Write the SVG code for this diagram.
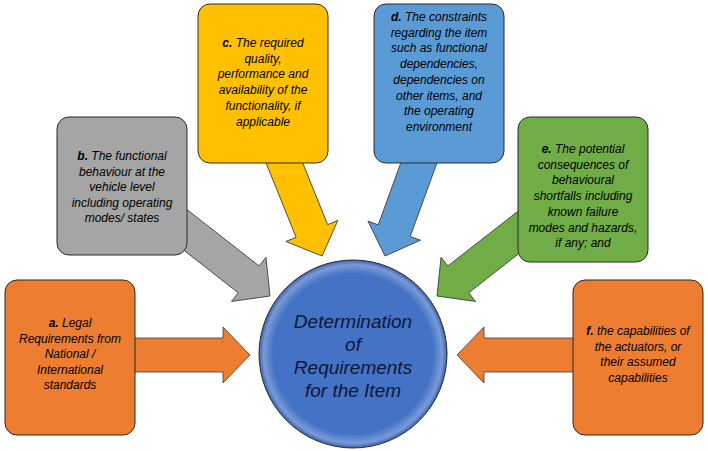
<svg xmlns="http://www.w3.org/2000/svg" width="708" height="451" viewBox="0 0 708 451">
<style>
.box{stroke:#2b2b2b;stroke-width:1}
.arr{stroke:#3a3a3a;stroke-width:0.8}
.t{font-family:"Liberation Sans",Arial,sans-serif;font-style:italic;font-size:12px;fill:#000;text-anchor:middle}
.c{font-family:"Liberation Sans",Arial,sans-serif;font-style:italic;font-size:19px;fill:#0c1838;text-anchor:middle}
b,.b{font-weight:bold}
</style>
<defs>
<polygon id="ar" points="-120,-17 -27,-17 -27,-28 0,0 -27,28 -27,17 -120,17"/>
<radialGradient id="cg" cx="0.5" cy="0.5" r="0.5">
<stop offset="0.85" stop-color="#4472C4"/><stop offset="0.95" stop-color="#7a9ad8"/><stop offset="1" stop-color="#3a62aa"/>
</radialGradient>
</defs>
<g id="connectors">
<use href="#ar" class="arr" fill="#A5A5A5" transform="translate(270,296) rotate(38)"/>
<use href="#ar" class="arr" fill="#FFC000" transform="translate(322,256) rotate(68)"/>
<use href="#ar" class="arr" fill="#5B9BD5" transform="translate(385,256) rotate(110)"/>
<use href="#ar" class="arr" fill="#70AD47" transform="translate(437,296) rotate(142)"/>
<use href="#ar" class="arr" fill="#ED7D31" transform="translate(250,355)"/>
<use href="#ar" class="arr" fill="#ED7D31" transform="translate(457,355) rotate(180)"/>
</g>
<g id="a"><rect class="box" x="5" y="280" width="130" height="155" rx="12" fill="#ED7D31"/>
<text class="t" y="327"><tspan x="70"><tspan class="b">a.</tspan> Legal</tspan><tspan x="70" dy="15.5">Requirements from</tspan><tspan x="70" dy="15.5">National /</tspan><tspan x="70" dy="15.5">International</tspan><tspan x="70" dy="15.5">standards</tspan></text></g>
<g id="b"><rect class="box" x="57" y="117" width="130" height="138" rx="12" fill="#A5A5A5"/>
<text class="t" y="160"><tspan x="122"><tspan class="b">b.</tspan> The functional</tspan><tspan x="122" dy="15.5">behaviour at the</tspan><tspan x="122" dy="15.5">vehicle level</tspan><tspan x="122" dy="15.5">including operating</tspan><tspan x="122" dy="15.5">modes/ states</tspan></text></g>
<g id="c"><rect class="box" x="198" y="4" width="130" height="159" rx="12" fill="#FFC000"/>
<text class="t" y="47"><tspan x="263"><tspan class="b">c.</tspan> The required</tspan><tspan x="263" dy="15.7">quality,</tspan><tspan x="263" dy="15.7">performance and</tspan><tspan x="263" dy="15.7">availability of the</tspan><tspan x="263" dy="15.7">functionality, if</tspan><tspan x="263" dy="15.7">applicable</tspan></text></g>
<g id="d"><rect class="box" x="374" y="4" width="130" height="159" rx="12" fill="#5B9BD5"/>
<text class="t" y="21"><tspan x="439"><tspan class="b">d.</tspan> The constraints</tspan><tspan x="439" dy="15.7">regarding the item</tspan><tspan x="439" dy="15.7">such as functional</tspan><tspan x="439" dy="15.7">dependencies,</tspan><tspan x="439" dy="15.7">dependencies on</tspan><tspan x="439" dy="15.7">other items, and</tspan><tspan x="439" dy="15.7">the operating</tspan><tspan x="439" dy="15.7">environment</tspan></text></g>
<g id="e"><rect class="box" x="518" y="117" width="130" height="145" rx="12" fill="#70AD47"/>
<text class="t" y="153"><tspan x="583"><tspan class="b">e.</tspan> The potential</tspan><tspan x="583" dy="15.7">consequences of</tspan><tspan x="583" dy="15.7">behavioural</tspan><tspan x="583" dy="15.7">shortfalls including</tspan><tspan x="583" dy="15.7">known failure</tspan><tspan x="583" dy="15.7">modes and hazards,</tspan><tspan x="583" dy="15.7">if any; and</tspan></text></g>
<g id="f"><rect class="box" x="573" y="280" width="130" height="155" rx="12" fill="#ED7D31"/>
<text class="t" y="335"><tspan x="638"><tspan class="b">f.</tspan> the capabilities of</tspan><tspan x="638" dy="15.5">the actuators, or</tspan><tspan x="638" dy="15.5">their assumed</tspan><tspan x="638" dy="15.5">capabilities</tspan></text></g>
<g id="center"><circle cx="353" cy="354" r="94" fill="url(#cg)" stroke="#2b2b2b" stroke-width="1"/>
<text class="c" y="328"><tspan x="353">Determination</tspan><tspan x="353" dy="23">of</tspan><tspan x="353" dy="23">Requirements</tspan><tspan x="353" dy="23">for the Item</tspan></text></g>
</svg>
